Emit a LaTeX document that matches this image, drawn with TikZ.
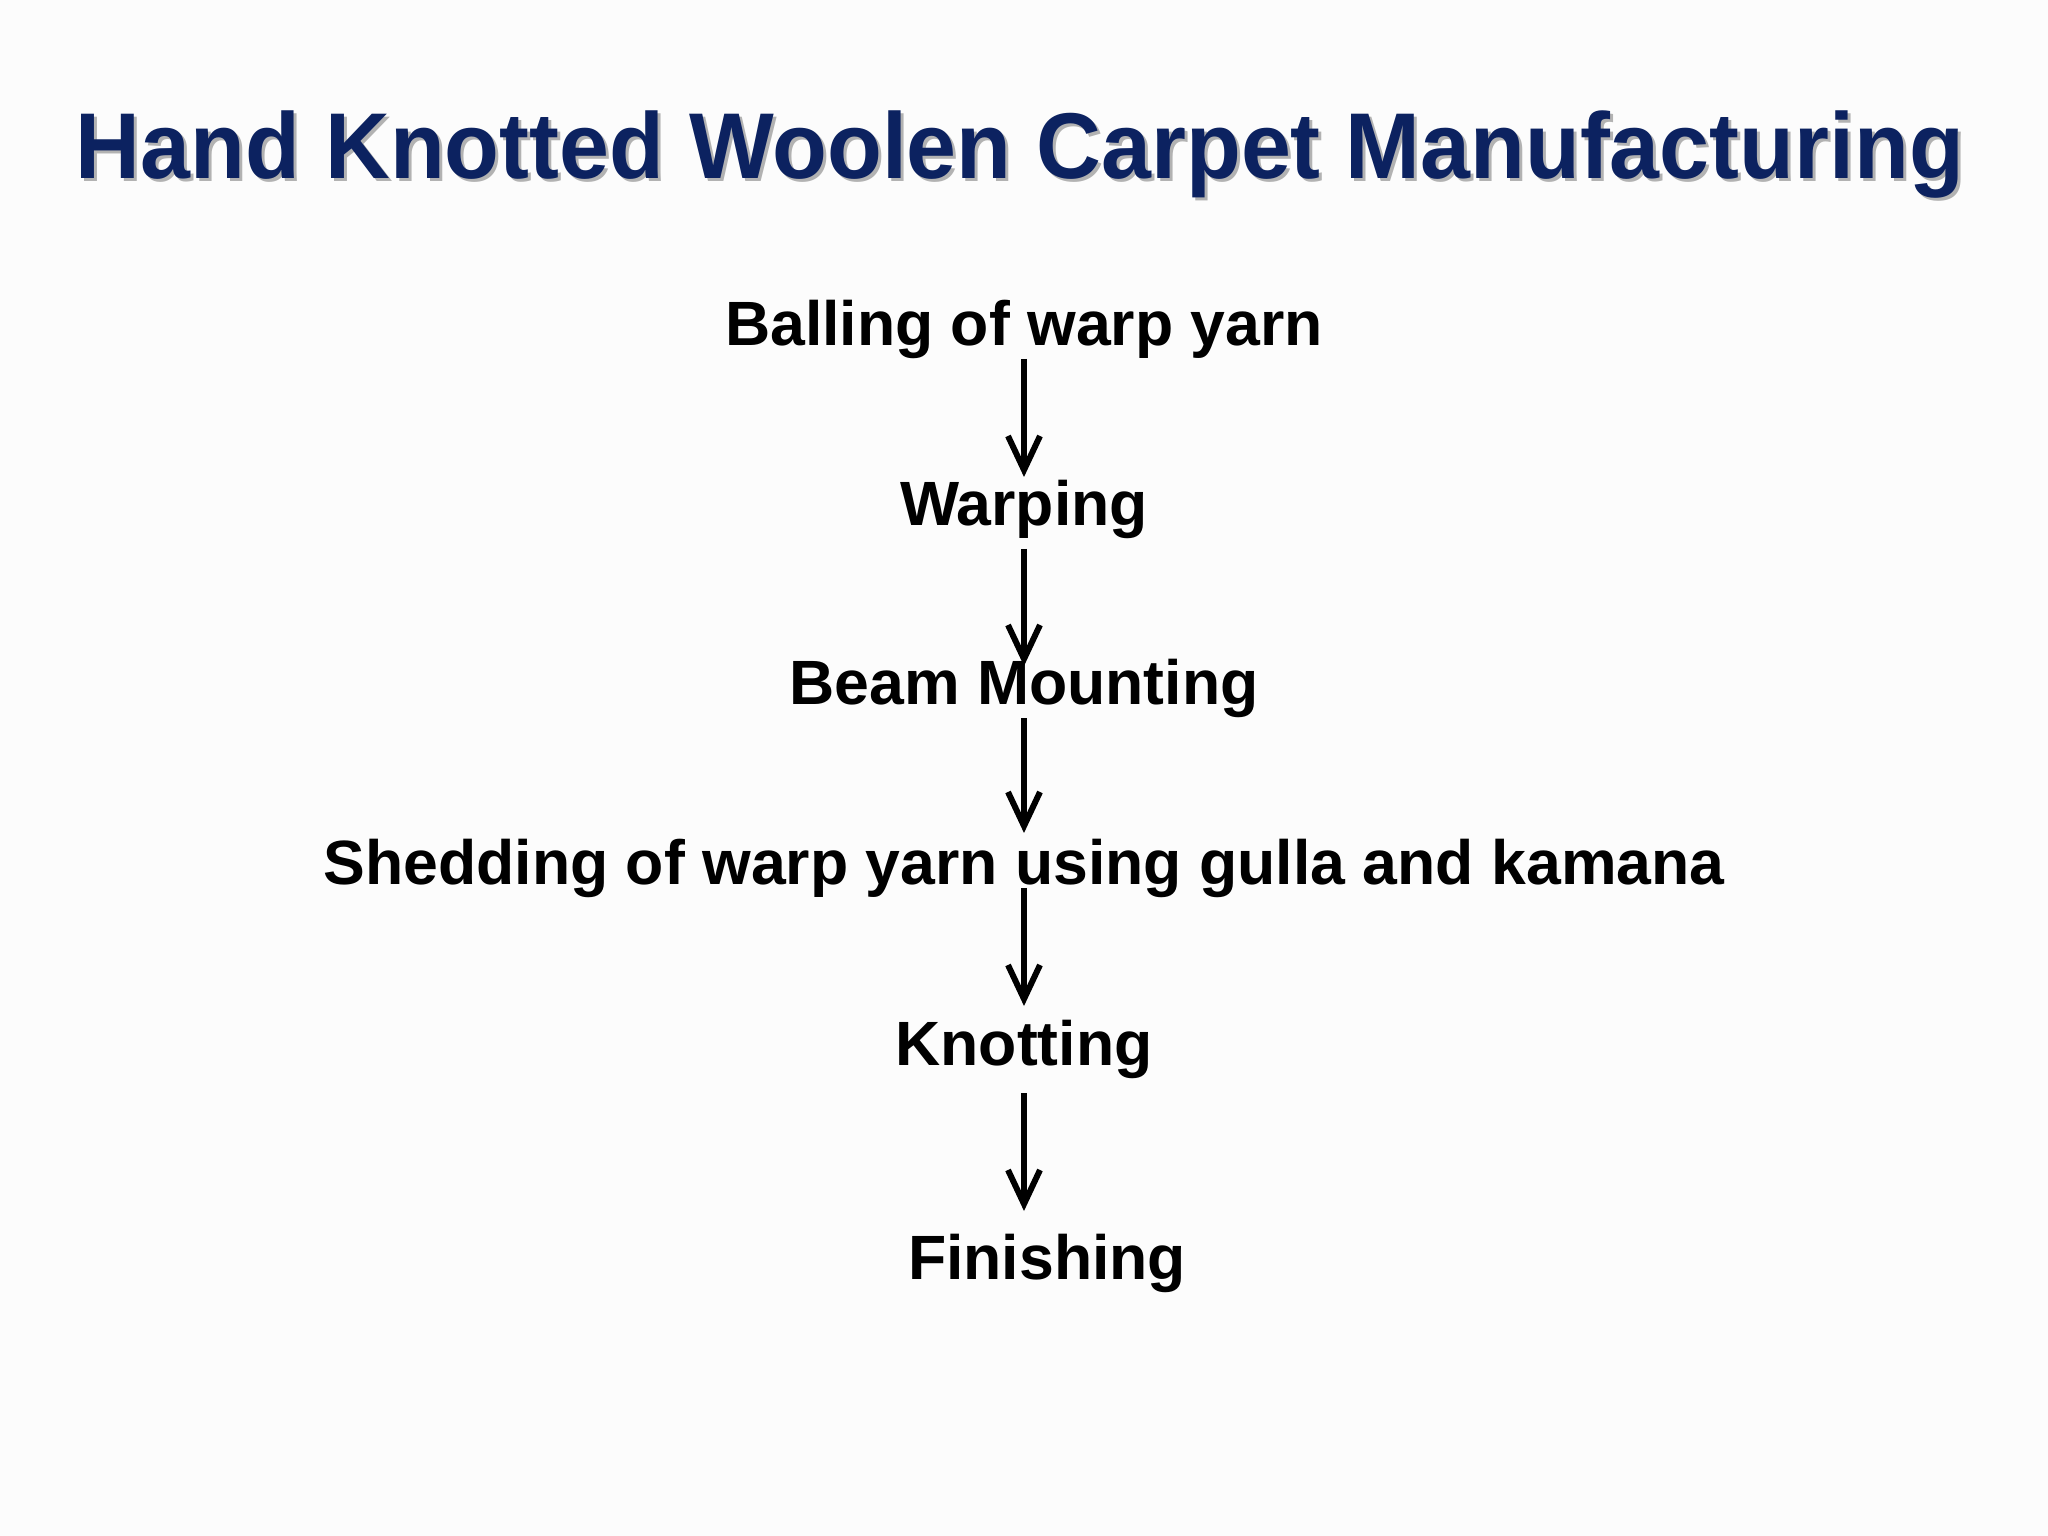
\documentclass[tikz,border=0pt]{standalone}
\usepackage{fontspec}
\setmainfont{Liberation Sans}
\usetikzlibrary{arrows.meta}

\definecolor{titleblue}{RGB}{12,34,96}
\tikzset{
	titletext/.style={font=\fontsize{26.6pt}{30pt}\selectfont\bfseries},
	steplabel/.style={font=\fontsize{17.8pt}{21pt}\selectfont\bfseries, inner sep=0pt},
	flow/.style={line width=1.7pt, -{Straight Barb[length=3.4mm, width=3.2mm, line width=1.7pt]}},
}
\newcommand{\titlestr}{\scalebox{0.96}[1]{Hand Knotted Woolen Carpet Manufacturing}}

\begin{document}
\begin{tikzpicture}
		\useasboundingbox[fill=gray!2] (0,0) rectangle (20.48,-15.36);
		\node[titletext, text=black!30] (shadow) at (10.23,-1.58) {\titlestr};
		\node[titletext, text=titleblue] (title) at (10.20,-1.55) {\titlestr};
		\node[steplabel] (balling) at (10.24,-3.29) {Balling of warp yarn};
		\node[steplabel] (warping) at (10.24,-5.09) {Warping};
		\node[steplabel] (beam) at (10.24,-6.88) {Beam Mounting};
		\node[steplabel] (shedding) at (10.24,-8.68) {Shedding of warp yarn using gulla and kamana};
		\node[steplabel] (knotting) at (10.24,-10.49) {Knotting};
		\node[steplabel] (finishing) at (10.47,-12.63) {Finishing};
		\draw[flow] ([yshift=-0.30cm]balling.center) -- ([yshift=0.32cm]warping.center);
		\draw[flow] ([yshift=-0.40cm]warping.center) -- ([yshift=0.22cm]beam.center);
		\draw[flow] ([yshift=-0.30cm]beam.center) -- ([yshift=0.35cm]shedding.center);
		\draw[flow] ([yshift=-0.20cm]shedding.center) -- ([yshift=0.43cm]knotting.center);
		\draw[flow] ([yshift=-0.44cm]knotting.center) -- ([xshift=-0.23cm, yshift=0.52cm]finishing.center);
	\end{tikzpicture}
\end{document}
